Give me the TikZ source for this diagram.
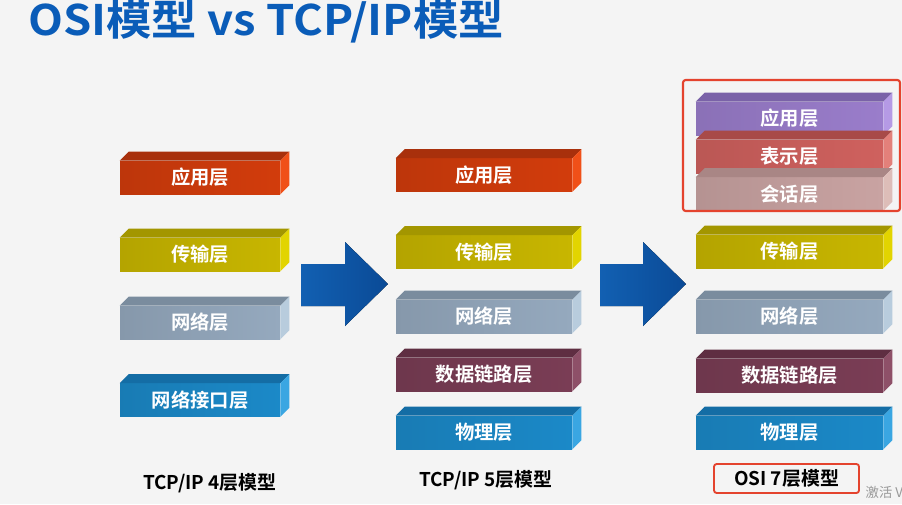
\documentclass[tikz,border=0pt]{standalone}
\usepackage{fontspec}
\setmainfont{Noto Sans CJK SC}[BoldFont={Noto Sans CJK SC Bold}]
\newfontfamily\titlefont{Noto Sans CJK SC Bold}[FakeStretch=1.08]
\usepackage{tikz}
\usetikzlibrary{calc, positioning}

\definecolor{bg}{RGB}{244,244,244}
\definecolor{titleblue}{HTML}{0A5CB8}
\definecolor{arrowL}{HTML}{1260B2}
\definecolor{arrowR}{HTML}{0A4A96}
\definecolor{frame}{HTML}{E4432E}
% front / top / side colours of each layer
\definecolor{appF}{HTML}{D23C0C}  \definecolor{appT}{HTML}{A8300C}  \definecolor{appS}{HTML}{F05018}
\definecolor{traF}{HTML}{C8B600}  \definecolor{traT}{HTML}{A39600}  \definecolor{traS}{HTML}{E2D400}
\definecolor{netF}{HTML}{95A9BE}  \definecolor{netT}{HTML}{7A8C9E}  \definecolor{netS}{HTML}{B8CCDD}
\definecolor{phyF}{HTML}{1B89C8}  \definecolor{phyT}{HTML}{146DA5}  \definecolor{phyS}{HTML}{3AA6E2}
\definecolor{datF}{HTML}{7A3D55}  \definecolor{datT}{HTML}{5F2E42}  \definecolor{datS}{HTML}{8E5068}
\definecolor{oapF}{HTML}{9A7DCB}  \definecolor{oapT}{HTML}{7A62A8}  \definecolor{oapS}{HTML}{B59AE5}
\definecolor{preF}{HTML}{CF615E}  \definecolor{preT}{HTML}{A84A48}  \definecolor{preS}{HTML}{E3807A}
\definecolor{sesF}{HTML}{C9A3A2}  \definecolor{sesT}{HTML}{A98685}  \definecolor{sesS}{HTML}{DDBDB8}

\tikzset{
    layer/.style={inner sep=0, minimum height=33*0.75pt, text=white,
        font=\bfseries\fontsize{14.5}{16}\selectfont},
    caption/.style={font=\bfseries\fontsize{14.2}{16}\selectfont, text=black},
}

% name, position, width in px, colour prefix, text
\newcommand{\layerbox}[5]{%
    \node[layer, minimum width=#3*0.75pt, left color=#4F!90!black, right color=#4F] at #2 (#1) {#5};
    \fill[#4T] (#1.north west) -- ++(9,-9) -- ($(#1.north east)+(9,-9)$) -- (#1.north east) -- cycle;
    \fill[#4S] (#1.north east) -- ++(9,-9) -- ($(#1.south east)+(9,-9)$) -- (#1.south east) -- cycle;
}

\begin{document}
\begin{tikzpicture}[x=0.75pt, y=-0.75pt]
    \useasboundingbox (0,0) rectangle (902,504);
    \fill[bg] (0,0) rectangle (902,504);

    \node[anchor=base west, inner sep=0, text=titleblue, font=\titlefont\fontsize{31.5}{34}\selectfont] at (28,35) (title) {OSI模型 vs TCP/IP模型};

    % TCP/IP 4 layers
    \layerbox{fapp}{(200,177.5)}{160}{app}{应用层}
    \layerbox{ftra}{(200,254.5)}{160}{tra}{传输层}
    \layerbox{fnet}{(200,322.5)}{160}{net}{网络层}
    \layerbox{flnk}{(200,400)}{160}{phy}{网络接口层}
    \node[caption] at (210,483) (cap4) {TCP/IP 4层模型};

    % TCP/IP 5 layers
    \layerbox{vapp}{(484,175)}{176}{app}{应用层}
    \layerbox{vtra}{(484,252)}{176}{tra}{传输层}
    \layerbox{vnet}{(484,316.5)}{176}{net}{网络层}
    \layerbox{vdat}{(484,374.5)}{176}{dat}{数据链路层}
    \layerbox{vphy}{(484,432.5)}{176}{phy}{物理层}
    \node[caption] at (486,480) (cap5) {TCP/IP 5层模型};

    % OSI 7 layers
    \layerbox{sapp}{(789.5,118.5)}{187}{oap}{应用层}
    \layerbox{spre}{(789.5,156.5)}{187}{pre}{表示层}
    \layerbox{sses}{(789.5,194)}{187}{ses}{会话层}
    \layerbox{stra}{(789.5,251.5)}{187}{tra}{传输层}
    \layerbox{snet}{(789.5,316.5)}{187}{net}{网络层}
    \layerbox{sdat}{(789.5,375.5)}{187}{dat}{数据链路层}
    \layerbox{sphy}{(789.5,432.5)}{187}{phy}{物理层}
    \draw[frame, line width=1.6pt, rounded corners=2pt] (683,80) rectangle (900,211);
    \node[caption, draw=frame, line width=1.4pt, rounded corners=2pt, minimum width=145*0.75pt, minimum height=29*0.75pt] at (786.5,478.5) (cap7) {OSI 7层模型};

    % block arrows
    \fill[left color=arrowL, right color=arrowR] (301,264) -- (345,264) -- (345,242) -- (388,284) -- (345,326) -- (345,306) -- (301,306) -- cycle;
    \fill[left color=arrowL, right color=arrowR] (600,264) -- (643,264) -- (643,242) -- (686,284) -- (643,326) -- (643,306) -- (600,306) -- cycle;

    \node[anchor=west, text=black!40, font=\fontsize{10}{12}\selectfont] at (861,492) (mark) {激活 V};
\end{tikzpicture}
\end{document}
